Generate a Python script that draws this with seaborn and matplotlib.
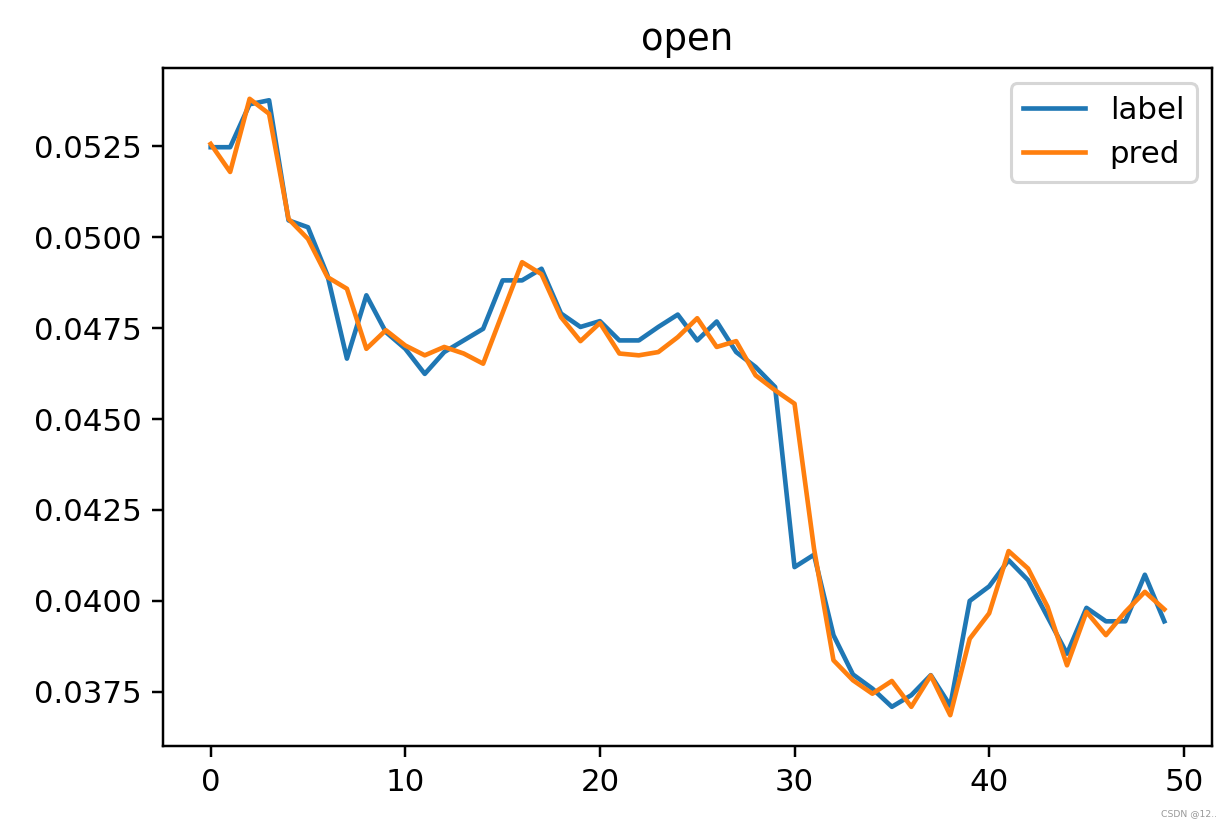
import matplotlib
matplotlib.use("Agg")
import matplotlib.pyplot as plt
import seaborn as sns
import pandas as pd

steps = list(range(50))
label_vals = [0.05247, 0.05247, 0.05365, 0.05376, 0.05046, 0.05027, 0.04895, 0.04666, 0.04840, 0.04739,
              0.04693, 0.04624, 0.04684, 0.04716, 0.04748, 0.04881, 0.04881, 0.04913, 0.04790, 0.04753,
              0.04769, 0.04716, 0.04716, 0.04753, 0.04787, 0.04716, 0.04768, 0.04684, 0.04643, 0.04588,
              0.04093, 0.04127, 0.03906, 0.03798, 0.03759, 0.03709, 0.03741, 0.03796, 0.03712, 0.04000,
              0.04040, 0.04112, 0.04057, 0.03956, 0.03855, 0.03981, 0.03944, 0.03944, 0.04072, 0.03944]
pred_vals = [0.05256, 0.05179, 0.05380, 0.05339, 0.05050, 0.04995, 0.04890, 0.04858, 0.04693, 0.04744,
             0.04702, 0.04675, 0.04698, 0.04680, 0.04652, 0.04792, 0.04931, 0.04898, 0.04780, 0.04714,
             0.04764, 0.04680, 0.04675, 0.04684, 0.04725, 0.04777, 0.04698, 0.04714, 0.04620, 0.04579,
             0.04542, 0.04144, 0.03837, 0.03782, 0.03745, 0.03780, 0.03709, 0.03795, 0.03686, 0.03896,
             0.03966, 0.04137, 0.04089, 0.03984, 0.03823, 0.03970, 0.03906, 0.03970, 0.04025, 0.03977]
series_names = ["label", "pred"]
title = "open"

df = pd.DataFrame({
    "step": steps * 2,
    "value": label_vals + pred_vals,
    "series": [series_names[0]] * len(steps) + [series_names[1]] * len(steps),
})

DPI = 222
fig = plt.figure(figsize=(1223 / DPI, 822 / DPI), dpi=DPI)
ax = fig.add_axes([163 / 1223, 1 - 746 / 822, (1212 - 163) / 1223, (746 - 68) / 822])
sns.lineplot(data=df, x="step", y="value", hue="series", palette=["#1f77b4", "#ff7f0e"],
             linewidth=1.5, ax=ax)
ax.set_xlabel("")
ax.set_ylabel("")
ax.set_title(title, fontsize=12)
ax.set_xticks([0, 10, 20, 30, 40, 50])
ax.set_yticks([0.0375, 0.0400, 0.0425, 0.0450, 0.0475, 0.0500, 0.0525])
ax.yaxis.set_major_formatter(matplotlib.ticker.FormatStrFormatter("%.4f"))
ax.tick_params(labelsize=10)
leg = ax.legend(loc="upper right", fontsize=10, title=None)
fig.text(0.995, 0.005, "CSDN @12..", fontsize=3, color="#999999", ha="right", va="bottom")
fig.savefig("out.png", dpi=DPI)
